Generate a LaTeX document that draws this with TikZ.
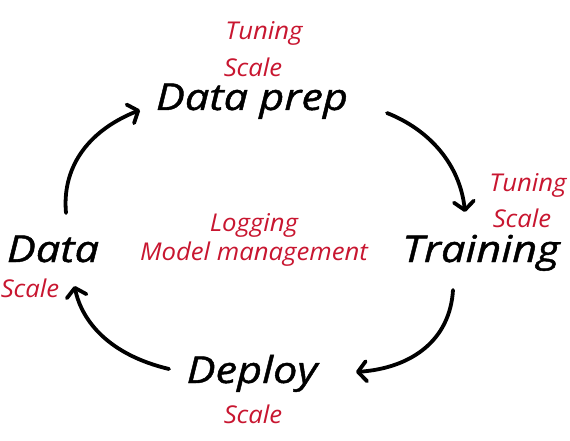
\documentclass[tikz,border=0pt]{standalone}
\usepackage{fontspec}
\setmainfont{Open Sans}
\newfontfamily\bigf[FakeStretch=1.17,FakeBold=1.2]{Open Sans}
\newfontfamily\lblf[FakeStretch=1.05]{Open Sans}
\usetikzlibrary{arrows.meta}
\definecolor{redlbl}{RGB}{200,22,48}
\tikzset{
  big/.style={anchor=base, inner sep=0pt, font=\bigf\fontsize{37}{40}\selectfont\itshape, text=black},
  lbl/.style={anchor=base, inner sep=0pt, font=\lblf\fontsize{24.5}{28}\selectfont\itshape, text=redlbl},
  cyc/.style={line width=3.8pt, line cap=round, -{Straight Barb[length=8.5pt,width=20pt,round]}}
}
\begin{document}
\begin{tikzpicture}[x=1pt,y=-1pt]
\useasboundingbox (0,0) rectangle (570,441);
% main nodes
\node[big] (prep) at (252,110) {Data prep};
\node[big] (train) at (481,262) {Training};
\node[big] (data) at (53,262) {Data};
\node[big] (deploy) at (252,383) {Deploy};
% labels
\node[lbl] (t1) at (264,40) {Tuning};
\node[lbl] (s1) at (253,77) {Scale};
\node[lbl] (t2) at (528,191) {Tuning};
\node[lbl] (s2) at (522,227) {Scale};
\node[lbl] (log) at (254,231) {Logging};
\node[lbl] (mm) at (254,260) {Model management};
\node[lbl] (s3) at (30,297) {Scale};
\node[lbl] (s4) at (253,423) {Scale};
% arrow ends
\coordinate (a1s) at (66,213);   \coordinate (a1e) at (140,110);
\coordinate (a2s) at (387,113);  \coordinate (a2e) at (465,212);
\coordinate (a3s) at (453,290);  \coordinate (a3e) at (356,372);
\coordinate (a4s) at (169,369);  \coordinate (a4e) at (74.5,286);
\draw[cyc] (a1s) .. controls (62,170) and (85,132) .. (a1e);
\draw[cyc] (a2s) .. controls (430,130) and (460,165) .. (a2e);
\draw[cyc] (a3s) .. controls (450,340) and (412,368) .. (a3e);
\draw[cyc] (a4s) .. controls (110,355) and (82,322) .. (a4e);
\end{tikzpicture}
\end{document}
